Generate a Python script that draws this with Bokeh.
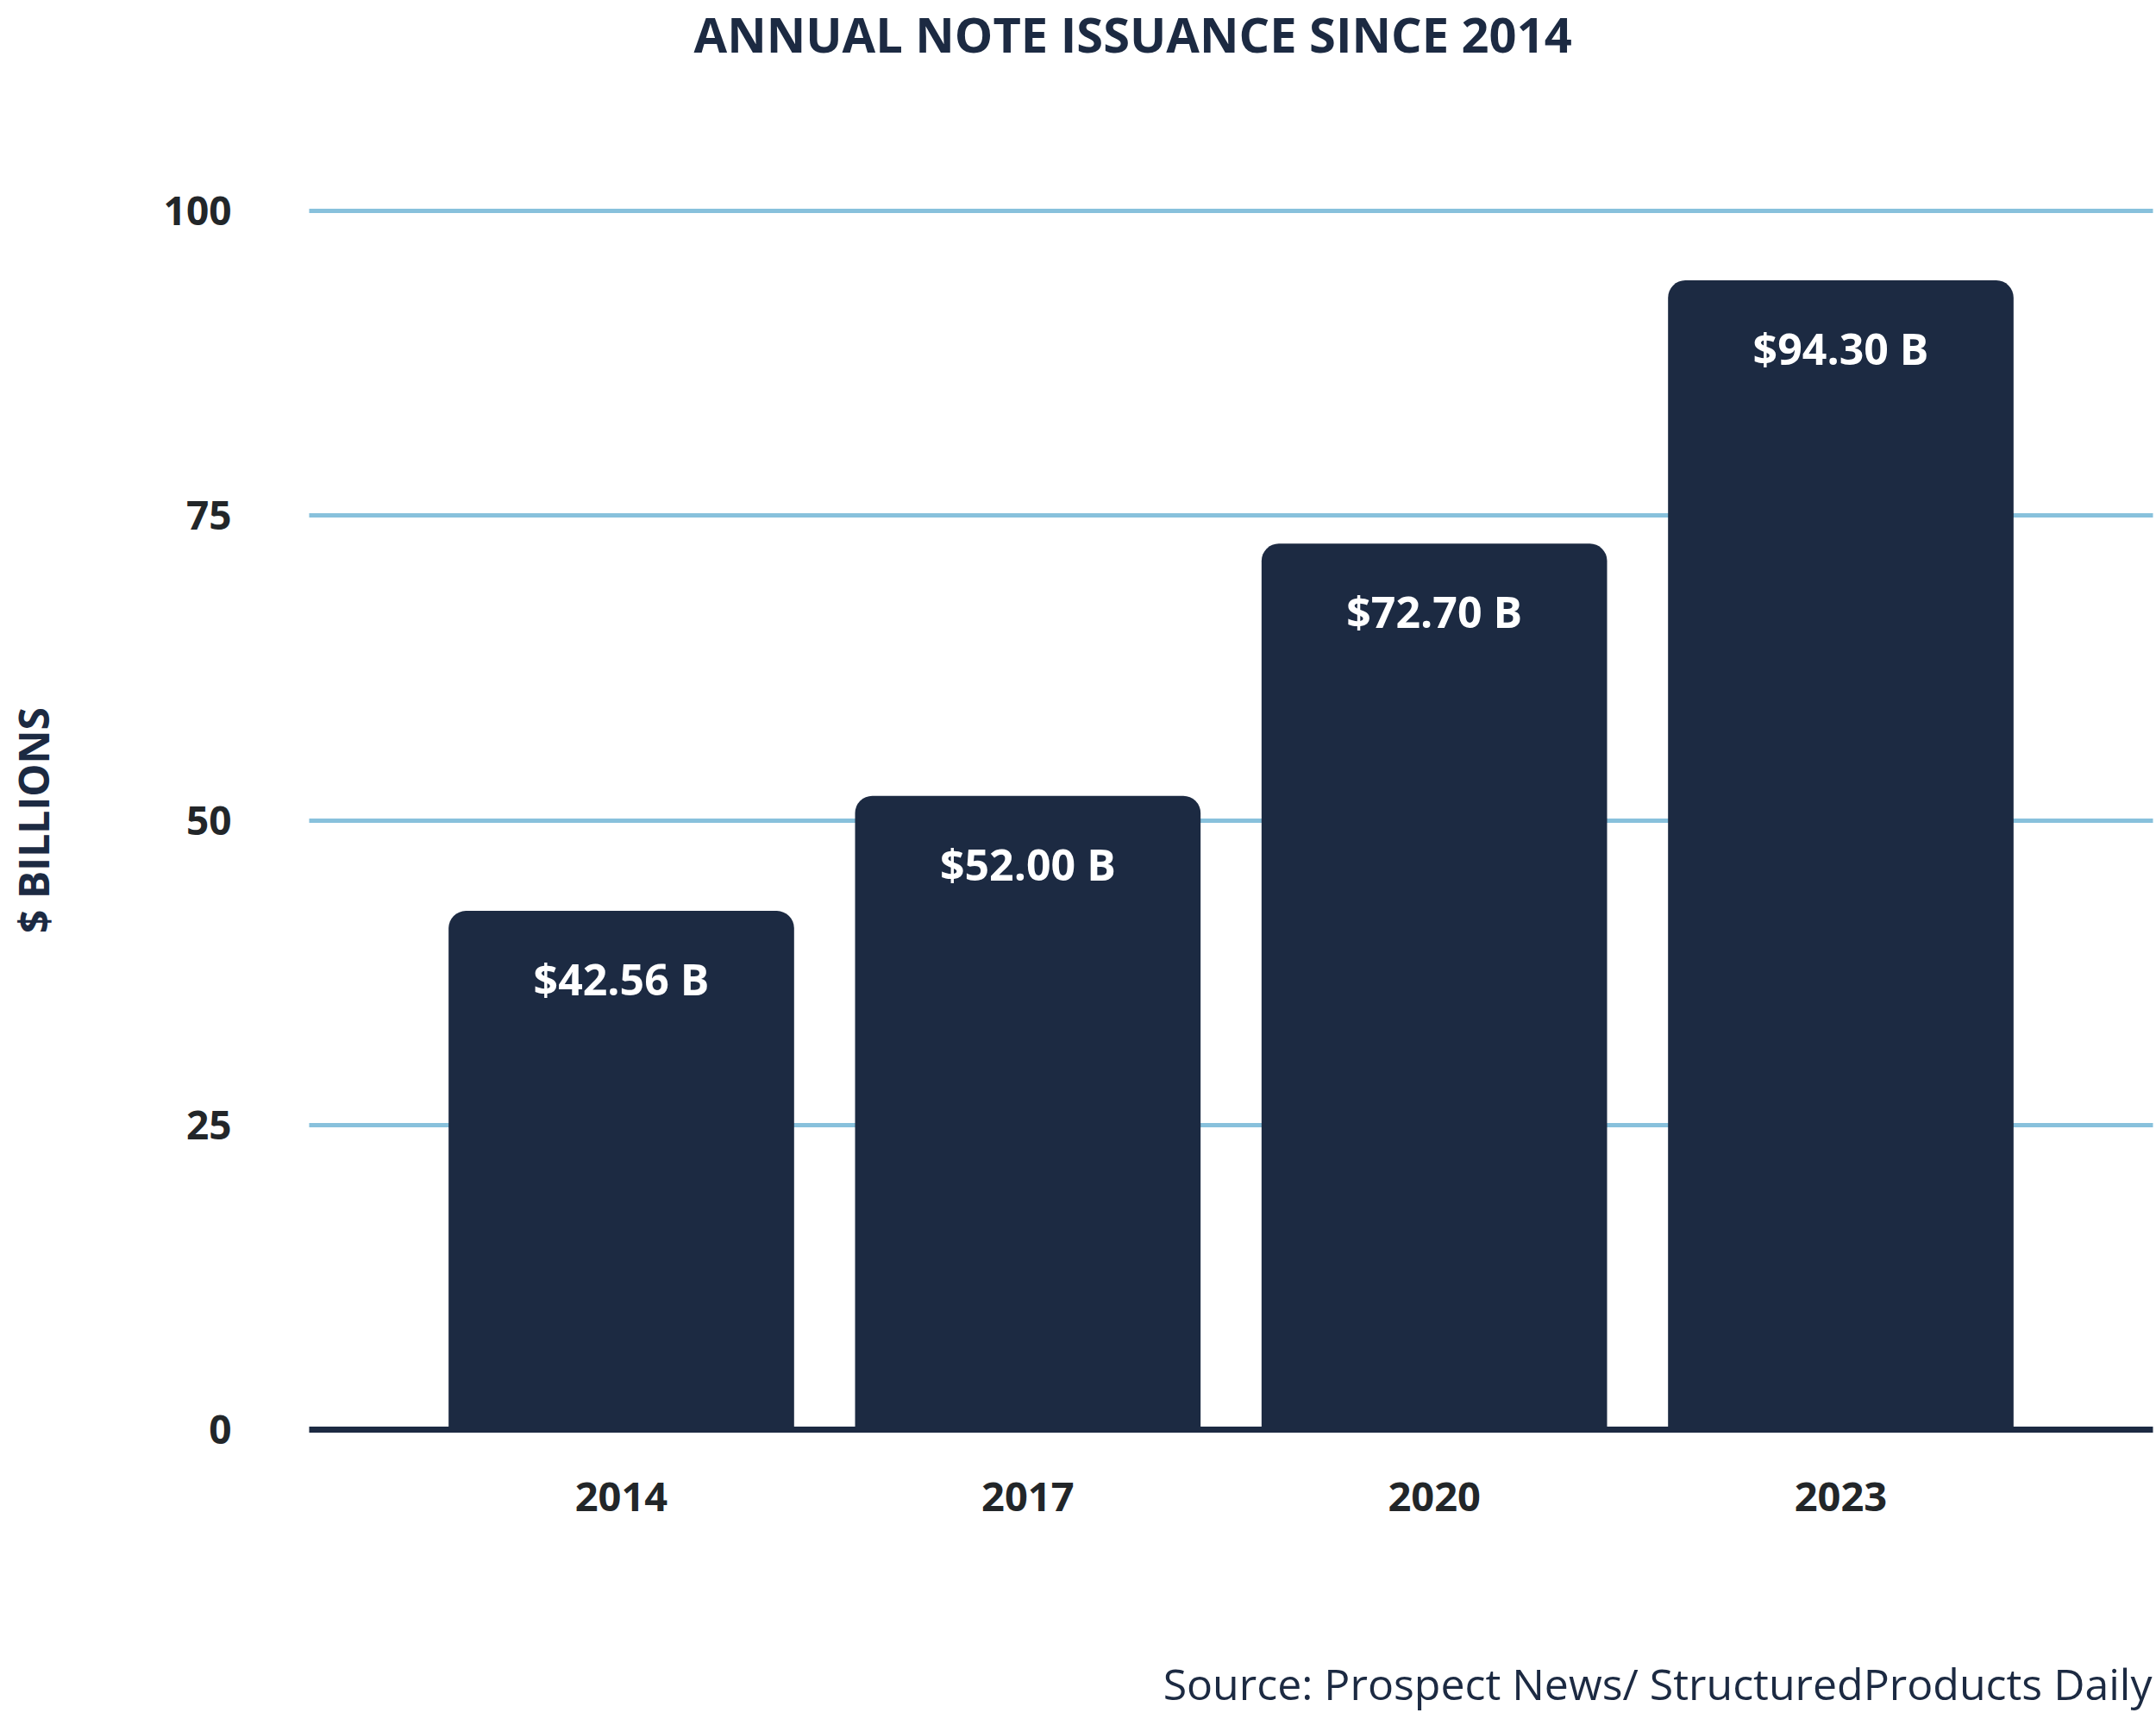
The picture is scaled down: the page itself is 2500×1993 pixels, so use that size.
from bokeh.plotting import figure
from bokeh.models import FactorRange, Range1d, FixedTicker, Span, Title
from bokeh.core.properties import value
from bokeh.embed import file_html
from bokeh.resources import INLINE

# Annual structured note issuance, $ billions
years = ["2014", "2017", "2020", "2023"]
issuance = [42.56, 52.00, 72.70, 94.30]
bar_labels = [f"${v:.2f} B" for v in issuance]
y_ticks = [0, 25, 50, 75, 100]

NAVY = "#1c2a42"
GRID = "#88c1dc"
TICK_TEXT = "#222629"
FONT = "Open Sans"

p = figure(
    width=2500, height=1993,
    x_range=FactorRange(factors=years, range_padding=0.134),
    y_range=Range1d(-0.5, 100.5),
    output_backend="svg", toolbar_location=None,
    min_border_left=358, min_border_right=4,
    min_border_top=237, min_border_bottom=329,
)
p.outline_line_color = None
p.background_fill_color = "white"
p.border_fill_color = "white"

# grid: light blue rules, dark baseline at zero
p.xgrid.grid_line_color = None
p.ygrid.ticker = FixedTicker(ticks=[25, 50, 75, 100])
p.ygrid.grid_line_color = GRID
p.ygrid.grid_line_width = 5
p.ygrid.grid_line_cap = "round"
p.add_layout(Span(location=0, dimension="width", line_color=NAVY,
                  line_width=7, line_cap="round", level="underlay"))

# y axis
p.yaxis.ticker = FixedTicker(ticks=y_ticks)
p.yaxis.axis_line_color = None
p.yaxis.major_tick_line_color = None
p.yaxis.minor_tick_line_color = None
p.yaxis.major_label_standoff = 84
p.yaxis.major_label_text_font = FONT
p.yaxis.major_label_text_font_style = "bold"
p.yaxis.major_label_text_font_size = "46px"
p.yaxis.major_label_text_color = TICK_TEXT
p.yaxis.axis_label = "$ BILLIONS"
p.yaxis.axis_label_text_font = FONT
p.yaxis.axis_label_text_font_style = "bold"
p.yaxis.axis_label_text_font_size = "48px"
p.yaxis.axis_label_text_color = NAVY
p.yaxis.axis_label_standoff = 116

# x axis
p.xaxis.axis_line_color = None
p.xaxis.major_tick_line_color = None
p.xaxis.minor_tick_line_color = None
p.xaxis.major_label_standoff = 48
p.xaxis.major_label_text_font = FONT
p.xaxis.major_label_text_font_style = "bold"
p.xaxis.major_label_text_font_size = "47px"
p.xaxis.major_label_text_color = TICK_TEXT

# bars with rounded top corners
p.vbar(x=years, top=issuance, bottom=0, width=0.85,
       fill_color=NAVY, line_color=None,
       border_radius=(20, 20, 0, 0))

# value labels inside the bars
p.text(x=years, y=issuance, text=bar_labels,
       text_align="center", text_baseline="middle", y_offset=79,
       text_color="white", text_font=value(FONT),
       text_font_style="bold", text_font_size="50px")

# header: blank spacer next to the frame, then the chart title on top
p.add_layout(Title(text=" ", text_font_size="10px", standoff=146), "above")
p.add_layout(Title(text="ANNUAL NOTE ISSUANCE SINCE 2014",
                   align="left", offset=446, vertical_align="top",
                   standoff=0,
                   text_font=FONT, text_font_style="bold",
                   text_font_size="56px", text_color=NAVY), "above")

# footer: blank spacer under the year labels, then the source note
p.add_layout(Title(text=" ", text_font_size="10px", standoff=150), "below")
p.add_layout(Title(text="Source: Prospect News/ StructuredProducts Daily",
                   align="right", offset=1, vertical_align="top",
                   standoff=0,
                   text_font=FONT, text_font_style="normal",
                   text_font_size="50px", text_color=NAVY), "below")

open("out.html", "w").write(file_html(p, INLINE))
